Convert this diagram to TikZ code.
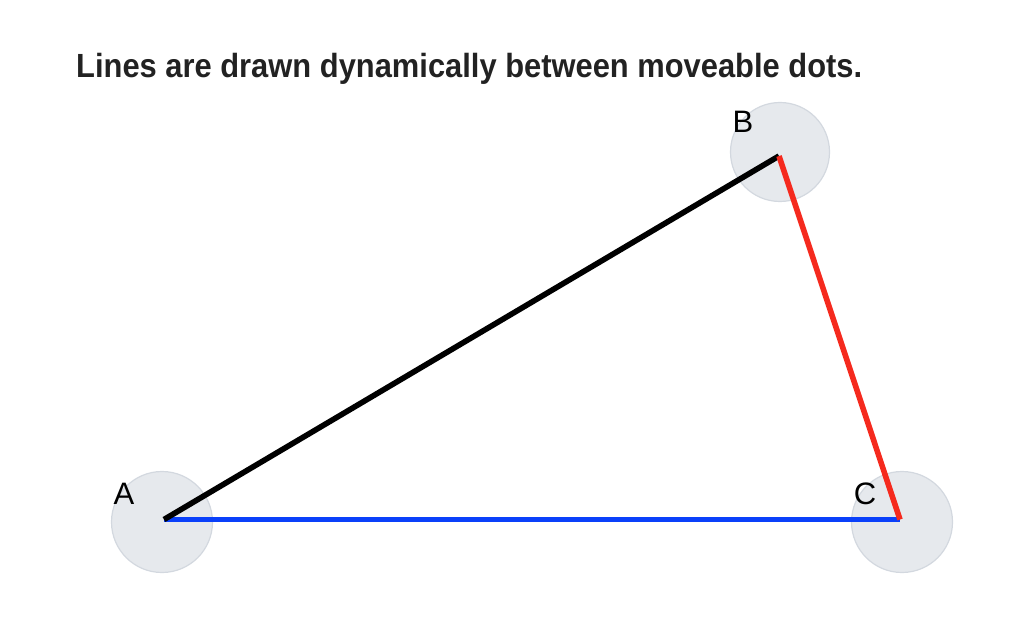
\documentclass[tikz,border=0pt]{standalone}
\usepackage{fontspec}
\setmainfont{Liberation Sans}
\usepackage{graphicx}
\definecolor{dotfill}{HTML}{E6E9ED}
\definecolor{dotdraw}{HTML}{D3D8DF}
\definecolor{lineblue}{HTML}{0A40FA}
\definecolor{linered}{HTML}{F52A1E}
\definecolor{titlecol}{HTML}{222222}
\tikzset{
  dot/.style={circle, fill=dotfill, draw=dotdraw, line width=1.2pt, minimum size=101pt, inner sep=0pt},
  seg/.style={line width=5.6pt, line cap=butt},
  lab/.style={font=\fontsize{31}{36}\selectfont, inner sep=0pt, anchor=base},
}
\begin{document}
\begin{tikzpicture}[x=1pt, y=-1pt]
\useasboundingbox (0,0) rectangle (1024,636);
\node[anchor=base west, inner sep=0pt, text=titlecol] (title) at (76,78)
  {\resizebox{786pt}{\height}{\fontsize{33.5}{40}\selectfont\bfseries Lines are drawn dynamically between moveable dots.}};
\node[dot] (dA) at (162,522) {};
\node[dot, minimum size=99pt] (dB) at (780,152) {};
\node[dot] (dC) at (902,522) {};
\coordinate (pA) at (164,519.5);
\coordinate (pB) at (779,156);
\coordinate (pC) at (900,519.5);
\node[lab] (lA) at (124,504) {A};
\node[lab] (lB) at (743,133) {B};
\node[lab] (lC) at (865,504) {C};
\draw[seg, lineblue] (pA) -- (pC);
\draw[seg, black] (pA) -- (pB);
\draw[seg, linered] (pB) -- (pC);
\end{tikzpicture}
\end{document}
